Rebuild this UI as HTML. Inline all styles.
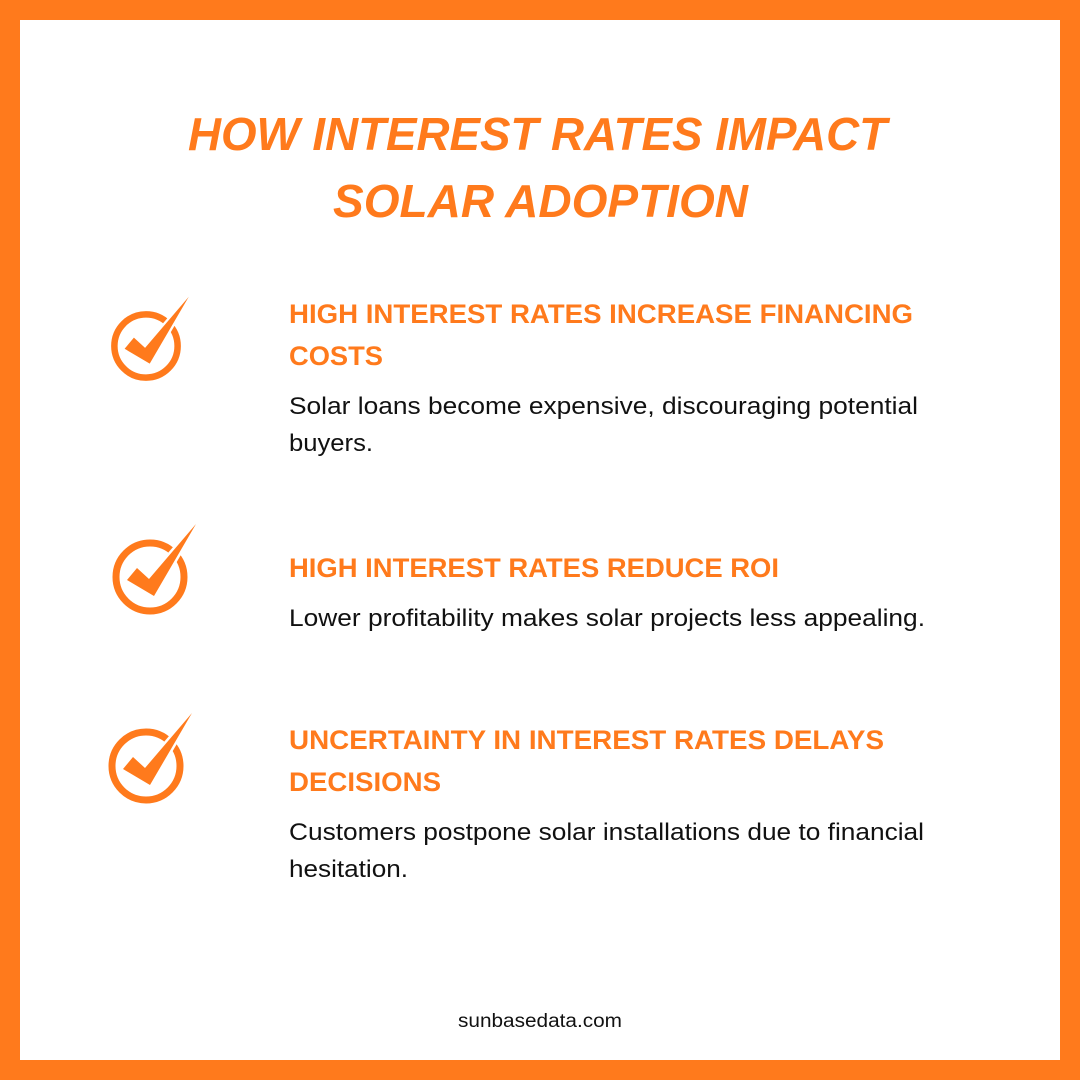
<!DOCTYPE html>
<html><head><meta charset="utf-8"><style>
html,body{margin:0;padding:0;background:#fff}
svg{display:block}
text{font-family:"Liberation Sans",sans-serif}
.t{fill:#FF7A1C;font-weight:bold;font-style:italic;font-size:46px}
.h{fill:#FF7A1C;font-weight:bold;font-size:27px}
.b{fill:#111;font-size:24px}
</style></head><body>
<svg width="1080" height="1080" viewBox="0 0 1080 1080" xmlns="http://www.w3.org/2000/svg">
<rect x="0" y="0" width="1080" height="1080" fill="#FF7A1C"/>
<rect x="20" y="20" width="1040" height="1040" fill="#fff"/>
<defs>
<g id="ic">
<circle cx="0" cy="0" r="34" fill="none" stroke="#FF7A1C" stroke-width="7"/>
<polygon points="-23,3 -13,-9 -1,2 46,-53 4,19" fill="#FF7A1C" stroke="#fff" stroke-width="5" stroke-linejoin="round"/>
<polygon points="-23,3 -13,-9 -1,2 46,-53 4,19" fill="#FF7A1C"/>
</g>
</defs>
<text class="t" x="188" y="150" textLength="699" lengthAdjust="spacingAndGlyphs">HOW INTEREST RATES IMPACT</text>
<text class="t" x="333" y="217" textLength="415" lengthAdjust="spacingAndGlyphs">SOLAR ADOPTION</text>

<use href="#ic" transform="translate(146,346) scale(0.93)"/>
<use href="#ic" transform="translate(150,577)"/>
<use href="#ic" transform="translate(146,766)"/>

<text class="h" x="289" y="323" textLength="624" lengthAdjust="spacingAndGlyphs">HIGH INTEREST RATES INCREASE FINANCING</text>
<text class="h" x="289" y="365" textLength="94" lengthAdjust="spacingAndGlyphs">COSTS</text>
<text class="b" x="289" y="414" textLength="629" lengthAdjust="spacingAndGlyphs">Solar loans become expensive, discouraging potential</text>
<text class="b" x="289" y="451" textLength="84" lengthAdjust="spacingAndGlyphs">buyers.</text>

<text class="h" x="289" y="577" textLength="490" lengthAdjust="spacingAndGlyphs">HIGH INTEREST RATES REDUCE ROI</text>
<text class="b" x="289" y="626" textLength="636" lengthAdjust="spacingAndGlyphs">Lower profitability makes solar projects less appealing.</text>

<text class="h" x="289" y="749" textLength="595" lengthAdjust="spacingAndGlyphs">UNCERTAINTY IN INTEREST RATES DELAYS</text>
<text class="h" x="289" y="791" textLength="152" lengthAdjust="spacingAndGlyphs">DECISIONS</text>
<text class="b" x="289" y="840" textLength="635" lengthAdjust="spacingAndGlyphs">Customers postpone solar installations due to financial</text>
<text class="b" x="289" y="877" textLength="119" lengthAdjust="spacingAndGlyphs">hesitation.</text>

<text x="458" y="1027" font-size="19" fill="#111" textLength="164" lengthAdjust="spacingAndGlyphs">sunbasedata.com</text>
</svg>
</body></html>
